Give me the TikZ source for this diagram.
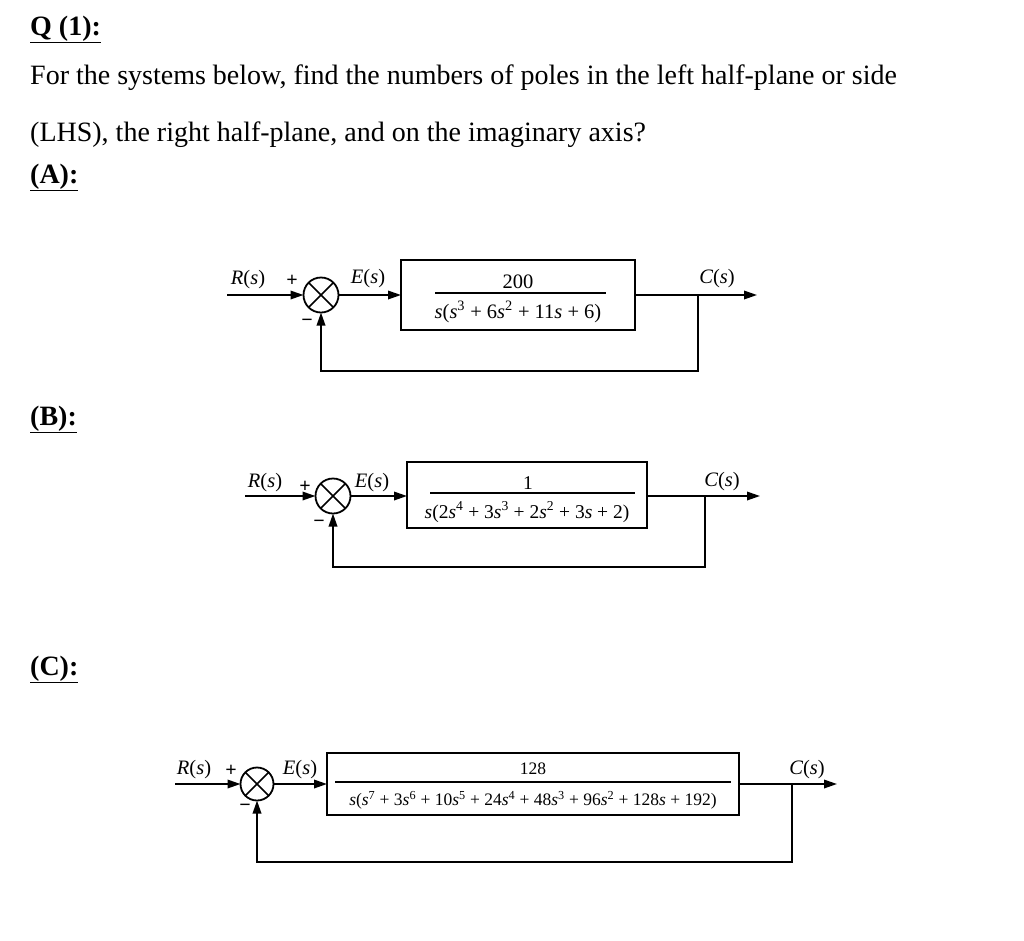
\documentclass[tikz,border=0pt]{standalone}
\usepackage{fontspec}
\setmainfont{Liberation Serif}
\usetikzlibrary{arrows.meta}
\newcommand\myS{\textit{s}}
\newcommand\lab[1]{\textit{#1}(\textit{s})}
\begin{document}
\begin{tikzpicture}[x=1pt,y=-1pt,
  sig/.style={line width=1.8pt,-{Triangle[length=13pt,width=8.5pt]}},
  sumj/.style={circle,draw,line width=1.8pt,minimum size=35pt,inner sep=0pt,outer sep=0pt},
  blk/.style={draw,line width=2pt,inner sep=0pt,outer sep=0pt},
  lbl/.style={font=\fontsize{20.5}{24}\selectfont,inner sep=0pt},
  sgn/.style={font=\bfseries\fontsize{20}{24}\selectfont,inner sep=0pt},
  head/.style={anchor=base west,inner sep=0pt,font=\fontsize{28}{32}\selectfont},
  fracA/.style={inner sep=0pt,font=\fontsize{20.5}{24}\selectfont},
  fracB/.style={inner sep=0pt,font=\fontsize{19.5}{24}\selectfont},
  fracC/.style={inner sep=0pt,font=\fontsize{17.5}{22}\selectfont},
]
\useasboundingbox (0,0) rectangle (1024,940);
% ---- text ----
\node[head] (q) at (30,35) {\bfseries\underline{Q (1):}};
\node[head] (t1) at (30,84) {For the systems below, find the numbers of poles in the left half-plane or side};
\node[head] (t2) at (30,141) {(LHS), the right half-plane, and on the imaginary axis?};
\node[head] (ha) at (30,183) {\bfseries\underline{(A):}};
\node[head] (hb) at (30,425) {\bfseries\underline{(B):}};
\node[head] (hc) at (30,675) {\bfseries\underline{(C):}};

% ---- (A) ----
\coordinate (inA) at (227,295);
\node[sumj] (sA) at (321,295) {};
\draw[line width=1.5pt] (sA.north west) -- (sA.south east) (sA.north east) -- (sA.south west);
\node[blk,minimum width=234pt,minimum height=70pt] (bA) at (518,295) {};
\node[fracA] (nA) at (518,282) {200};
\node[fracA] (dA) at (518,312) {\myS(\myS\textsuperscript{3} + 6\myS\textsuperscript{2} + 11\myS{} + 6)};
\draw[line width=1.1pt] (435,293) -- (606,293);
\coordinate (oA) at (757,295);
\coordinate (brA) at (698,295);
\coordinate (fbA) at (698,371);
\draw[sig] (inA) -- (sA);
\draw[sig] (sA) -- (bA);
\draw[sig] (bA) -- (oA);
\draw[sig] (brA) -- (fbA) -| (sA);
\node[lbl] (rA) at (248,280) {\lab{R}};
\node[sgn] (pA) at (292,281) {+};
\node[lbl] (eA) at (368,279) {\lab{E}};
\node[lbl] (cA) at (717,279) {\lab{C}};
\node[sgn] (mA) at (307,323) {\textminus};

% ---- (B) ----
\coordinate (inB) at (245,496);
\node[sumj] (sB) at (333,496) {};
\draw[line width=1.5pt] (sB.north west) -- (sB.south east) (sB.north east) -- (sB.south west);
\node[blk,minimum width=240pt,minimum height=66pt] (bB) at (527,495) {};
\node[fracB] (nB) at (528,483) {1};
\node[fracB] (dB) at (527,512) {\myS(2\myS\textsuperscript{4} + 3\myS\textsuperscript{3} + 2\myS\textsuperscript{2} + 3\myS{} + 2)};
\draw[line width=1.1pt] (430,493) -- (635,493);
\coordinate (oB) at (760,496);
\coordinate (brB) at (705,496);
\coordinate (fbB) at (705,567);
\draw[sig] (inB) -- (sB);
\draw[sig] (sB) -- (sB -| bB.west);
\draw[sig] (bB.east |- sB) -- (oB);
\draw[sig] (brB) -- (fbB) -| (sB);
\node[lbl] (rB) at (265,483) {\lab{R}};
\node[sgn] (pB) at (305,487) {+};
\node[lbl] (eB) at (372,483) {\lab{E}};
\node[lbl] (cB) at (722,482) {\lab{C}};
\node[sgn] (mB) at (319,524) {\textminus};

% ---- (C) ----
\coordinate (inC) at (175,784);
\node[sumj,minimum size=33pt] (sC) at (257,784) {};
\draw[line width=1.5pt] (sC.north west) -- (sC.south east) (sC.north east) -- (sC.south west);
\node[blk,minimum width=412pt,minimum height=62pt] (bC) at (533,784) {};
\node[fracC] (nC) at (533,769) {128};
\node[fracC] (dC) at (533,800) {\myS(\myS\textsuperscript{7} + 3\myS\textsuperscript{6} + 10\myS\textsuperscript{5} + 24\myS\textsuperscript{4} + 48\myS\textsuperscript{3} + 96\myS\textsuperscript{2} + 128\myS{} + 192)};
\draw[line width=1.1pt] (335,782) -- (731,782);
\coordinate (oC) at (837,784);
\coordinate (brC) at (792,784);
\coordinate (fbC) at (792,862);
\draw[sig] (inC) -- (sC);
\draw[sig] (sC) -- (bC);
\draw[sig] (bC) -- (oC);
\draw[sig] (brC) -- (fbC) -| (sC);
\node[lbl] (rC) at (194,770) {\lab{R}};
\node[sgn] (pC) at (231,771) {+};
\node[lbl] (eC) at (300,770) {\lab{E}};
\node[lbl] (cC) at (807,770) {\lab{C}};
\node[sgn] (mC) at (245,808) {\textminus};
\end{tikzpicture}
\end{document}
